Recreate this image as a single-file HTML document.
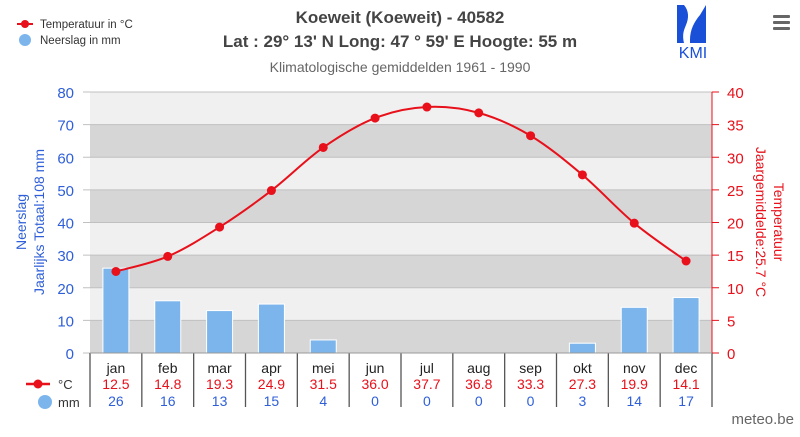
<!DOCTYPE html>
<html><head><meta charset="utf-8"><style>
html,body{margin:0;padding:0;background:#fff;}
svg{display:block;font-family:"Liberation Sans",sans-serif;}
</style></head><body>
<svg id="s" width="800" height="437" xmlns="http://www.w3.org/2000/svg">
<rect width="800" height="437" fill="#fff"/>
<g id="plot"></g>
<text x="400" y="23" text-anchor="middle" font-size="17" font-weight="bold" fill="#444">Koeweit (Koeweit) - 40582</text>
<text x="400" y="47" text-anchor="middle" font-size="17" font-weight="bold" fill="#444">Lat : 29° 13' N Long: 47 ° 59' E Hoogte: 55 m</text>
<text x="400" y="72" text-anchor="middle" font-size="14" fill="#666">Klimatologische gemiddelden 1961 - 1990</text>
<line x1="17" y1="24" x2="33" y2="24" stroke="#e8101a" stroke-width="2"/><circle cx="25" cy="24" r="4" fill="#e8101a"/>
<text x="40" y="28" font-size="11.5" fill="#333">Temperatuur in °C</text>
<circle cx="25" cy="40" r="6" fill="#7cb5ec"/>
<text x="40" y="44" font-size="11.5" fill="#333">Neerslag in mm</text>
<g fill="#1a4fd8"><path d="M677 5h7c5 6 5 13 2 20c-2 5-4 9-2 18h-7z"/><path d="M690 40c0-10 4-18 10-25l6-10v38h-16z"/></g>
<text x="693" y="58" text-anchor="middle" font-size="16" fill="#1a4fd8">KMI</text>
<g fill="#666"><rect x="773" y="15" width="17" height="3" rx="1"/><rect x="773" y="21" width="17" height="3" rx="1"/><rect x="773" y="27" width="17" height="3" rx="1"/></g>
<text x="26" y="222" transform="rotate(-90 26 222)" text-anchor="middle" font-size="14" fill="#2f5fd8">Neerslag</text>
<text x="44" y="222" transform="rotate(-90 44 222)" text-anchor="middle" font-size="14" fill="#2f5fd8">Jaarlijks Totaal:108 mm</text>
<text x="774" y="222" transform="rotate(90 774 222)" text-anchor="middle" font-size="14" fill="#e8101a">Temperatuur</text>
<text x="756" y="222" transform="rotate(90 756 222)" text-anchor="middle" font-size="14" fill="#e8101a">Jaargemiddelde:25.7 °C</text>
<line x1="26" y1="384" x2="50" y2="384" stroke="#e8101a" stroke-width="2.5"/><circle cx="38" cy="384" r="4.5" fill="#e8101a"/>
<text x="58" y="389" font-size="13" fill="#333">°C</text>
<circle cx="45" cy="402" r="7" fill="#7cb5ec"/>
<text x="58" y="407" font-size="13" fill="#333">mm</text>
<text x="794" y="424" text-anchor="end" font-size="15" fill="#666">meteo.be</text>
</svg>
<script>
var NS="http://www.w3.org/2000/svg",g=document.getElementById("plot");
function el(t,a,txt){var e=document.createElementNS(NS,t);for(var k in a)e.setAttribute(k,a[k]);if(txt!=null)e.textContent=txt;g.appendChild(e);return e;}
var x0=90,x1=712,y0=353,yt=92,cw=(x1-x0)/12;
var m=["jan","feb","mar","apr","mei","jun","jul","aug","sep","okt","nov","dec"];
var T=[12.5,14.8,19.3,24.9,31.5,36.0,37.7,36.8,33.3,27.3,19.9,14.1];
var P=[26,16,13,15,4,0,0,0,0,3,14,17];
var ps=(y0-yt)/80,ts=(y0-yt)/40;
for(var i=0;i<8;i++){var ya=yt+i*10*ps;el("rect",{x:x0,y:ya,width:x1-x0,height:10*ps,fill:i%2?"#d6d6d6":"#f0f0f0"});}
for(var i=0;i<=8;i++){var y=yt+i*10*ps;el("line",{x1:83,y1:y,x2:x1,y2:y,stroke:"#c0c0c0","stroke-width":1});
el("text",{x:74,y:y+6,"text-anchor":"end","font-size":15,fill:"#2f5fd8"},String(80-i*10));
el("line",{x1:x1,y1:y,x2:x1+7,y2:y,stroke:"#e8101a"});
el("text",{x:727,y:y+6,"font-size":15,fill:"#e8101a"},String(40-i*5));}
el("line",{x1:x1,y1:yt,x2:x1,y2:y0,stroke:"#e8101a","stroke-width":1});
for(var i=0;i<12;i++){var c=x0+cw*(i+0.5);if(P[i]>0)el("rect",{x:c-13,y:y0-P[i]*ps,width:26,height:P[i]*ps,fill:"#7cb5ec",stroke:"#fff","stroke-width":1});
el("text",{x:c,y:373,"text-anchor":"middle","font-size":14,fill:"#222"},m[i]);
el("text",{x:c,y:389,"text-anchor":"middle","font-size":14,fill:"#e8101a"},T[i].toFixed(1));
el("text",{x:c,y:406,"text-anchor":"middle","font-size":14,fill:"#2f5fd8"},String(P[i]));}
for(var i=0;i<=12;i++){var x=x0+cw*i;el("line",{x1:x,y1:y0,x2:x,y2:407,stroke:"#555","stroke-width":1.3});}
el("line",{x1:x0,y1:y0,x2:x1,y2:y0,stroke:"#999"});
var pts=T.map(function(t,i){return[x0+cw*(i+0.5),y0-t*ts];});
var d="M"+pts[0][0]+" "+pts[0][1];
for(var i=0;i<11;i++){var p0=pts[Math.max(0,i-1)],p1=pts[i],p2=pts[i+1],p3=pts[Math.min(11,i+2)];
d+=" C"+(p1[0]+(p2[0]-p0[0])/6)+" "+(p1[1]+(p2[1]-p0[1])/6)+" "+(p2[0]-(p3[0]-p1[0])/6)+" "+(p2[1]-(p3[1]-p1[1])/6)+" "+p2[0]+" "+p2[1];}
el("path",{d:d,fill:"none",stroke:"#e8101a","stroke-width":2});
pts.forEach(function(p){el("circle",{cx:p[0],cy:p[1],r:4.5,fill:"#e8101a"});});
</script>
</body></html>
